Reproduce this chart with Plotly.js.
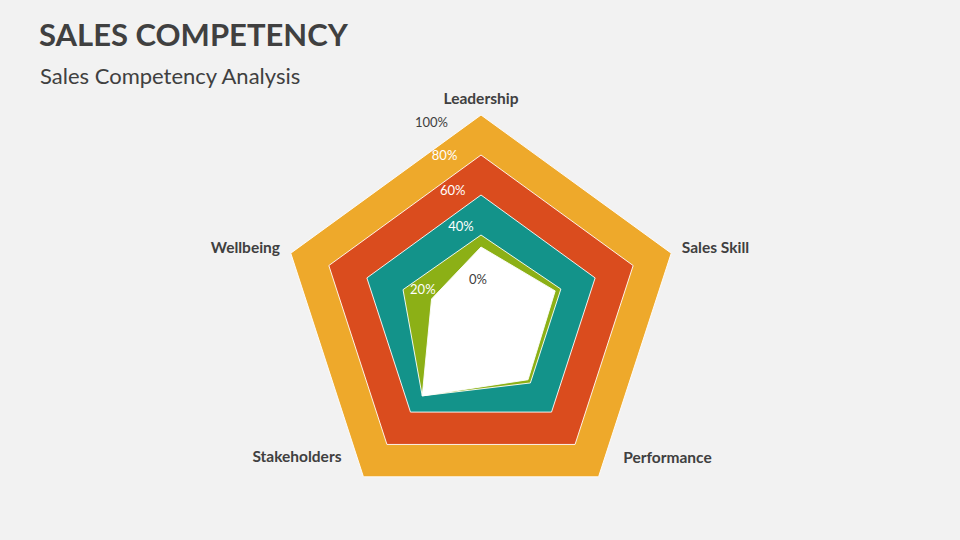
<!DOCTYPE html>
<html>
<head>
<meta charset="utf-8">
<script src="https://cdn.plot.ly/plotly-3.0.1.min.js"></script>
<style>
html,body{margin:0;padding:0;background:#F2F2F2;}
#chart{width:960px;height:540px;}
</style>
</head>
<body>
<div id="chart"></div>
<script>
// ---- data ----
const categories = ["Leadership", "Sales Skill", "Performance", "Stakeholders", "Wellbeing"];
const level100 = [100, 100, 100, 100, 100];
const level80 = [80, 80, 80, 80, 80];
const level60 = [60, 60, 60, 60, 60];
const greenValues = [40, 42, 42, 50, 41];
const whiteValues = [34, 39, 40, 50, 26];
const scaleValues = [100, 80, 60, 40, 20, 0];
const scaleLabels = ["100%", "80%", "60%", "40%", "20%", "0%"];

// ---- presentation ----
const catAngles = categories.map((c, i) => i * 360 / categories.length);
const catLabelAngles = [0, 73.8, 127.3, 232.5, 286.1];
const catLabelRadii = [108.5, 122.1, 117.2, 116, 122.6];
const scaleLabelAngles = [345.5, 347, 347, 347, 293, 355];
const scaleLabelRadii = [99, 81, 63, 44.6, 31.6, 17];
const scaleLabelColors = ["#404040", "#FFFFFF", "#FFFFFF", "#FFFFFF", "#FFFFFF", "#404040"];
const FONT = "Lato, 'Open Sans', sans-serif";

function closed(a) { return a.concat([a[0]]); }
const thetaClosed = closed(catAngles);

function poly(values, color, name) {
  return {
    type: "scatterpolar",
    r: closed(values),
    theta: thetaClosed,
    mode: "lines",
    fill: "toself",
    fillcolor: color,
    line: { color: "rgba(255,255,255,0.9)", width: 1 },
    name: name,
    hoverinfo: "skip"
  };
}

const rad = d => d * Math.PI / 180;

const traces = [
  poly(level100, "#EEA92B", "100%"),
  poly(level80, "#DA4C1E", "80%"),
  poly(level60, "#13938A", "60%"),
  poly(greenValues, "#8CB016", "Green"),
  poly(whiteValues, "#FFFFFF", "White"),
  {
    type: "scatterpolar",
    r: scaleLabelRadii,
    theta: scaleLabelAngles,
    mode: "text",
    text: scaleLabels,
    textfont: { family: FONT, size: 13, color: scaleLabelColors },
    hoverinfo: "skip"
  },
  {
    // category labels on a hidden cartesian overlay sharing the polar scale (1 unit = 2px)
    type: "scatter",
    xaxis: "x", yaxis: "y",
    x: catLabelAngles.map((a, i) => catLabelRadii[i] * Math.sin(rad(a))),
    y: catLabelAngles.map((a, i) => catLabelRadii[i] * Math.cos(rad(a))),
    mode: "text",
    text: categories.map(c => "<b>" + c + "</b>"),
    textfont: { family: FONT, size: 15.5, color: "#404040" },
    hoverinfo: "skip",
    cliponaxis: false
  }
];

const layout = {
  width: 960,
  height: 540,
  paper_bgcolor: "#F2F2F2",
  plot_bgcolor: "rgba(0,0,0,0)",
  margin: { l: 0, r: 0, t: 0, b: 0 },
  showlegend: false,
  title: {
    text: "<b>SALES COMPETENCY</b>",
    font: { family: FONT, size: 31, color: "#404040" },
    x: 39 / 960, xanchor: "left", xref: "paper",
    y: 1 - 24 / 540, yanchor: "top", yref: "paper"
  },
  annotations: [{
    text: "Sales Competency Analysis",
    xref: "paper", yref: "paper",
    x: 38 / 960, y: 1 - 60 / 540, xanchor: "left", yanchor: "top",
    showarrow: false,
    font: { family: FONT, size: 22, color: "#404040" }
  }],
  xaxis: { domain: [0, 1], range: [-240.5, 239.5], visible: false, fixedrange: true },
  yaxis: { domain: [0, 1], range: [-111.5, 158.5], visible: false, fixedrange: true },
  polar: {
    domain: { x: [281 / 960, 681 / 960], y: [1 - 515 / 540, 1 - 115 / 540] },
    bgcolor: "rgba(0,0,0,0)",
    gridshape: "linear",
    radialaxis: { range: [0, 100], visible: false, showgrid: false },
    angularaxis: {
      type: "linear",
      thetaunit: "degrees",
      rotation: 90,
      direction: "clockwise",
      tickvals: catAngles,
      ticktext: categories,
      showticklabels: false,
      showgrid: false,
      showline: false,
      ticks: ""
    }
  }
};

Plotly.newPlot("chart", traces, layout, { displayModeBar: false, staticPlot: true });
</script>
</body>
</html>
